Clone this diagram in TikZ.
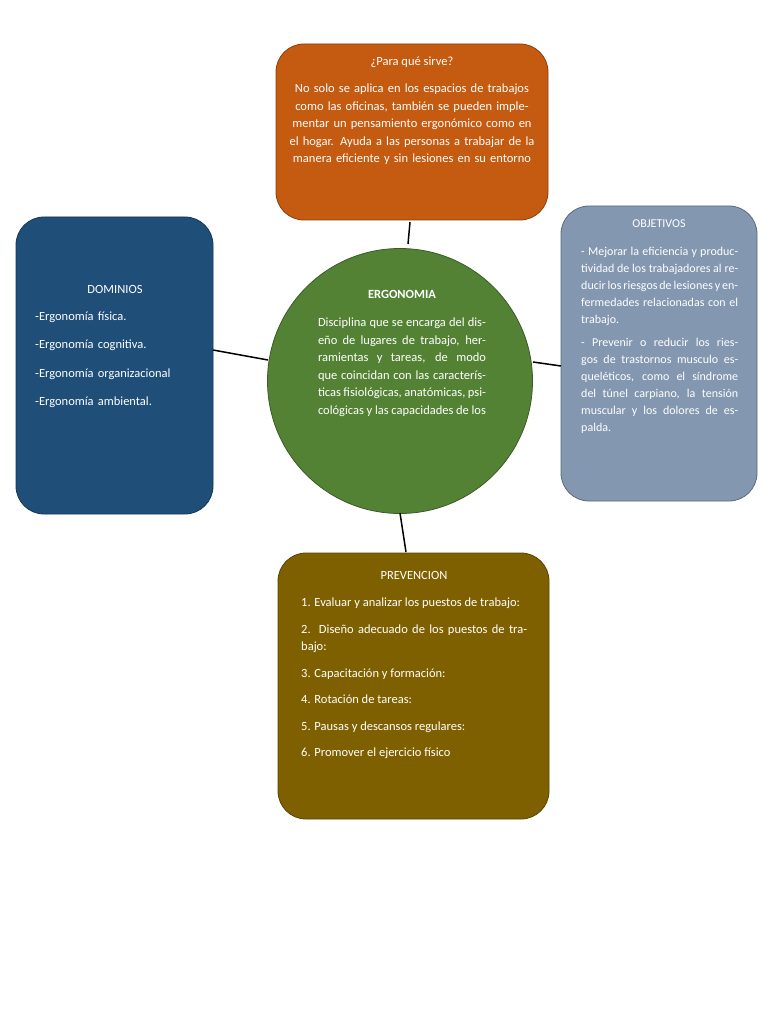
\documentclass[tikz,border=0pt]{standalone}
\usepackage{fontspec}
\setmainfont{Carlito}
\begin{document}
\begin{tikzpicture}[x=1pt,y=-1pt,
  box/.style={rounded corners=28pt,draw=#1!70!black,line width=0.8pt,fill=#1},
  txt/.style={text=white,inner sep=0pt,anchor=north west,font=\fontsize{12.5}{17.5}\selectfont},
  conn/.style={line width=1.5pt}]
\definecolor{orng}{HTML}{C55A11}
\definecolor{dblue}{HTML}{1F4E79}
\definecolor{gblue}{HTML}{8497B0}
\definecolor{cgreen}{HTML}{548235}
\definecolor{brown}{HTML}{7F6000}
\useasboundingbox (0,0) rectangle (768,1024);
\fill[white] (0,0) rectangle (768,1024);
% boxes
\draw[box=orng] (276,44) rectangle (548,220) coordinate (tbr);
\node (top) at (412,132) {};
\draw[box=dblue] (16,217) rectangle (213,514);
\node (left) at (114,365) {};
\draw[box=gblue] (561,206) rectangle (757,501);
\node (right) at (659,353) {};
\draw[box=brown] (278,553) rectangle (549,819);
\node (bot) at (413,686) {};
\node[circle,draw=cgreen!70!black,line width=0.8pt,fill=cgreen,minimum size=265pt,inner sep=0pt] (c) at (400,381) {};
% connectors
\draw[conn] (410,222) -- (408,244);
\draw[conn] (213,350) -- (268,360);
\draw[conn] (533,362) -- (561,366);
\draw[conn] (400,513) -- (406,552);
% top text
\node[txt,anchor=north] (t1) at (412,57) {¿Para qué sirve?};
\node[txt,anchor=north,text width=250pt,align=center] (t2) at (412,84) {No solo se aplica en los espacios de trabajos como las oficinas, también se pueden implementar un pensamiento ergonómico como en el hogar. Ayuda a las personas a trabajar de la manera eficiente y sin lesiones en su entorno};
% center
\node[txt,anchor=north,font=\bfseries\fontsize{12.5}{17.5}\selectfont] (c1) at (402,290) {ERGONOMIA};
\node[txt,anchor=north,text width=168pt,align=justify] (c2) at (402,318) {Disciplina que se encarga del diseño de lugares de trabajo, herramientas y tareas, de modo que coincidan con las características fisiológicas, anatómicas, psicológicas y las capacidades de los\hfill\mbox{}};
% left
\node[txt,anchor=north] (l0) at (115,285) {DOMINIOS};
\node[txt,text width=170pt] (l1) at (35,312) {-Ergonomía física.\\[10pt]-Ergonomía cognitiva.\\[12pt]-Ergonomía organizacional\\[10pt]-Ergonomía ambiental.};
% right
\node[txt,anchor=north,font=\fontsize{12}{17}\selectfont] (r0) at (659,220) {OBJETIVOS};
\node[txt,text width=157pt,align=justify,font=\fontsize{12}{17}\selectfont] (r1) at (581,247) {- Mejorar la eficiencia y productividad de los trabajadores al reducir los riesgos de lesiones y enfermedades relacionadas con el trabajo.\par\vspace{6pt}- Prevenir o reducir los riesgos de trastornos musculo esqueléticos, como el síndrome del túnel carpiano, la tensión muscular y los dolores de espalda.};
% bottom
\node[txt,anchor=north] (b0) at (414,571) {PREVENCION};
\node[txt,text width=226pt,align=justify] (b1) at (301,598) {1. Evaluar y analizar los puestos de trabajo:\par\vspace{9pt}2. Diseño adecuado de los puestos de trabajo:\par\vspace{9pt}3. Capacitación y formación:\par\vspace{9pt}4. Rotación de tareas:\par\vspace{9pt}5. Pausas y descansos regulares:\par\vspace{9pt}6. Promover el ejercicio físico};
\end{tikzpicture}
\end{document}
